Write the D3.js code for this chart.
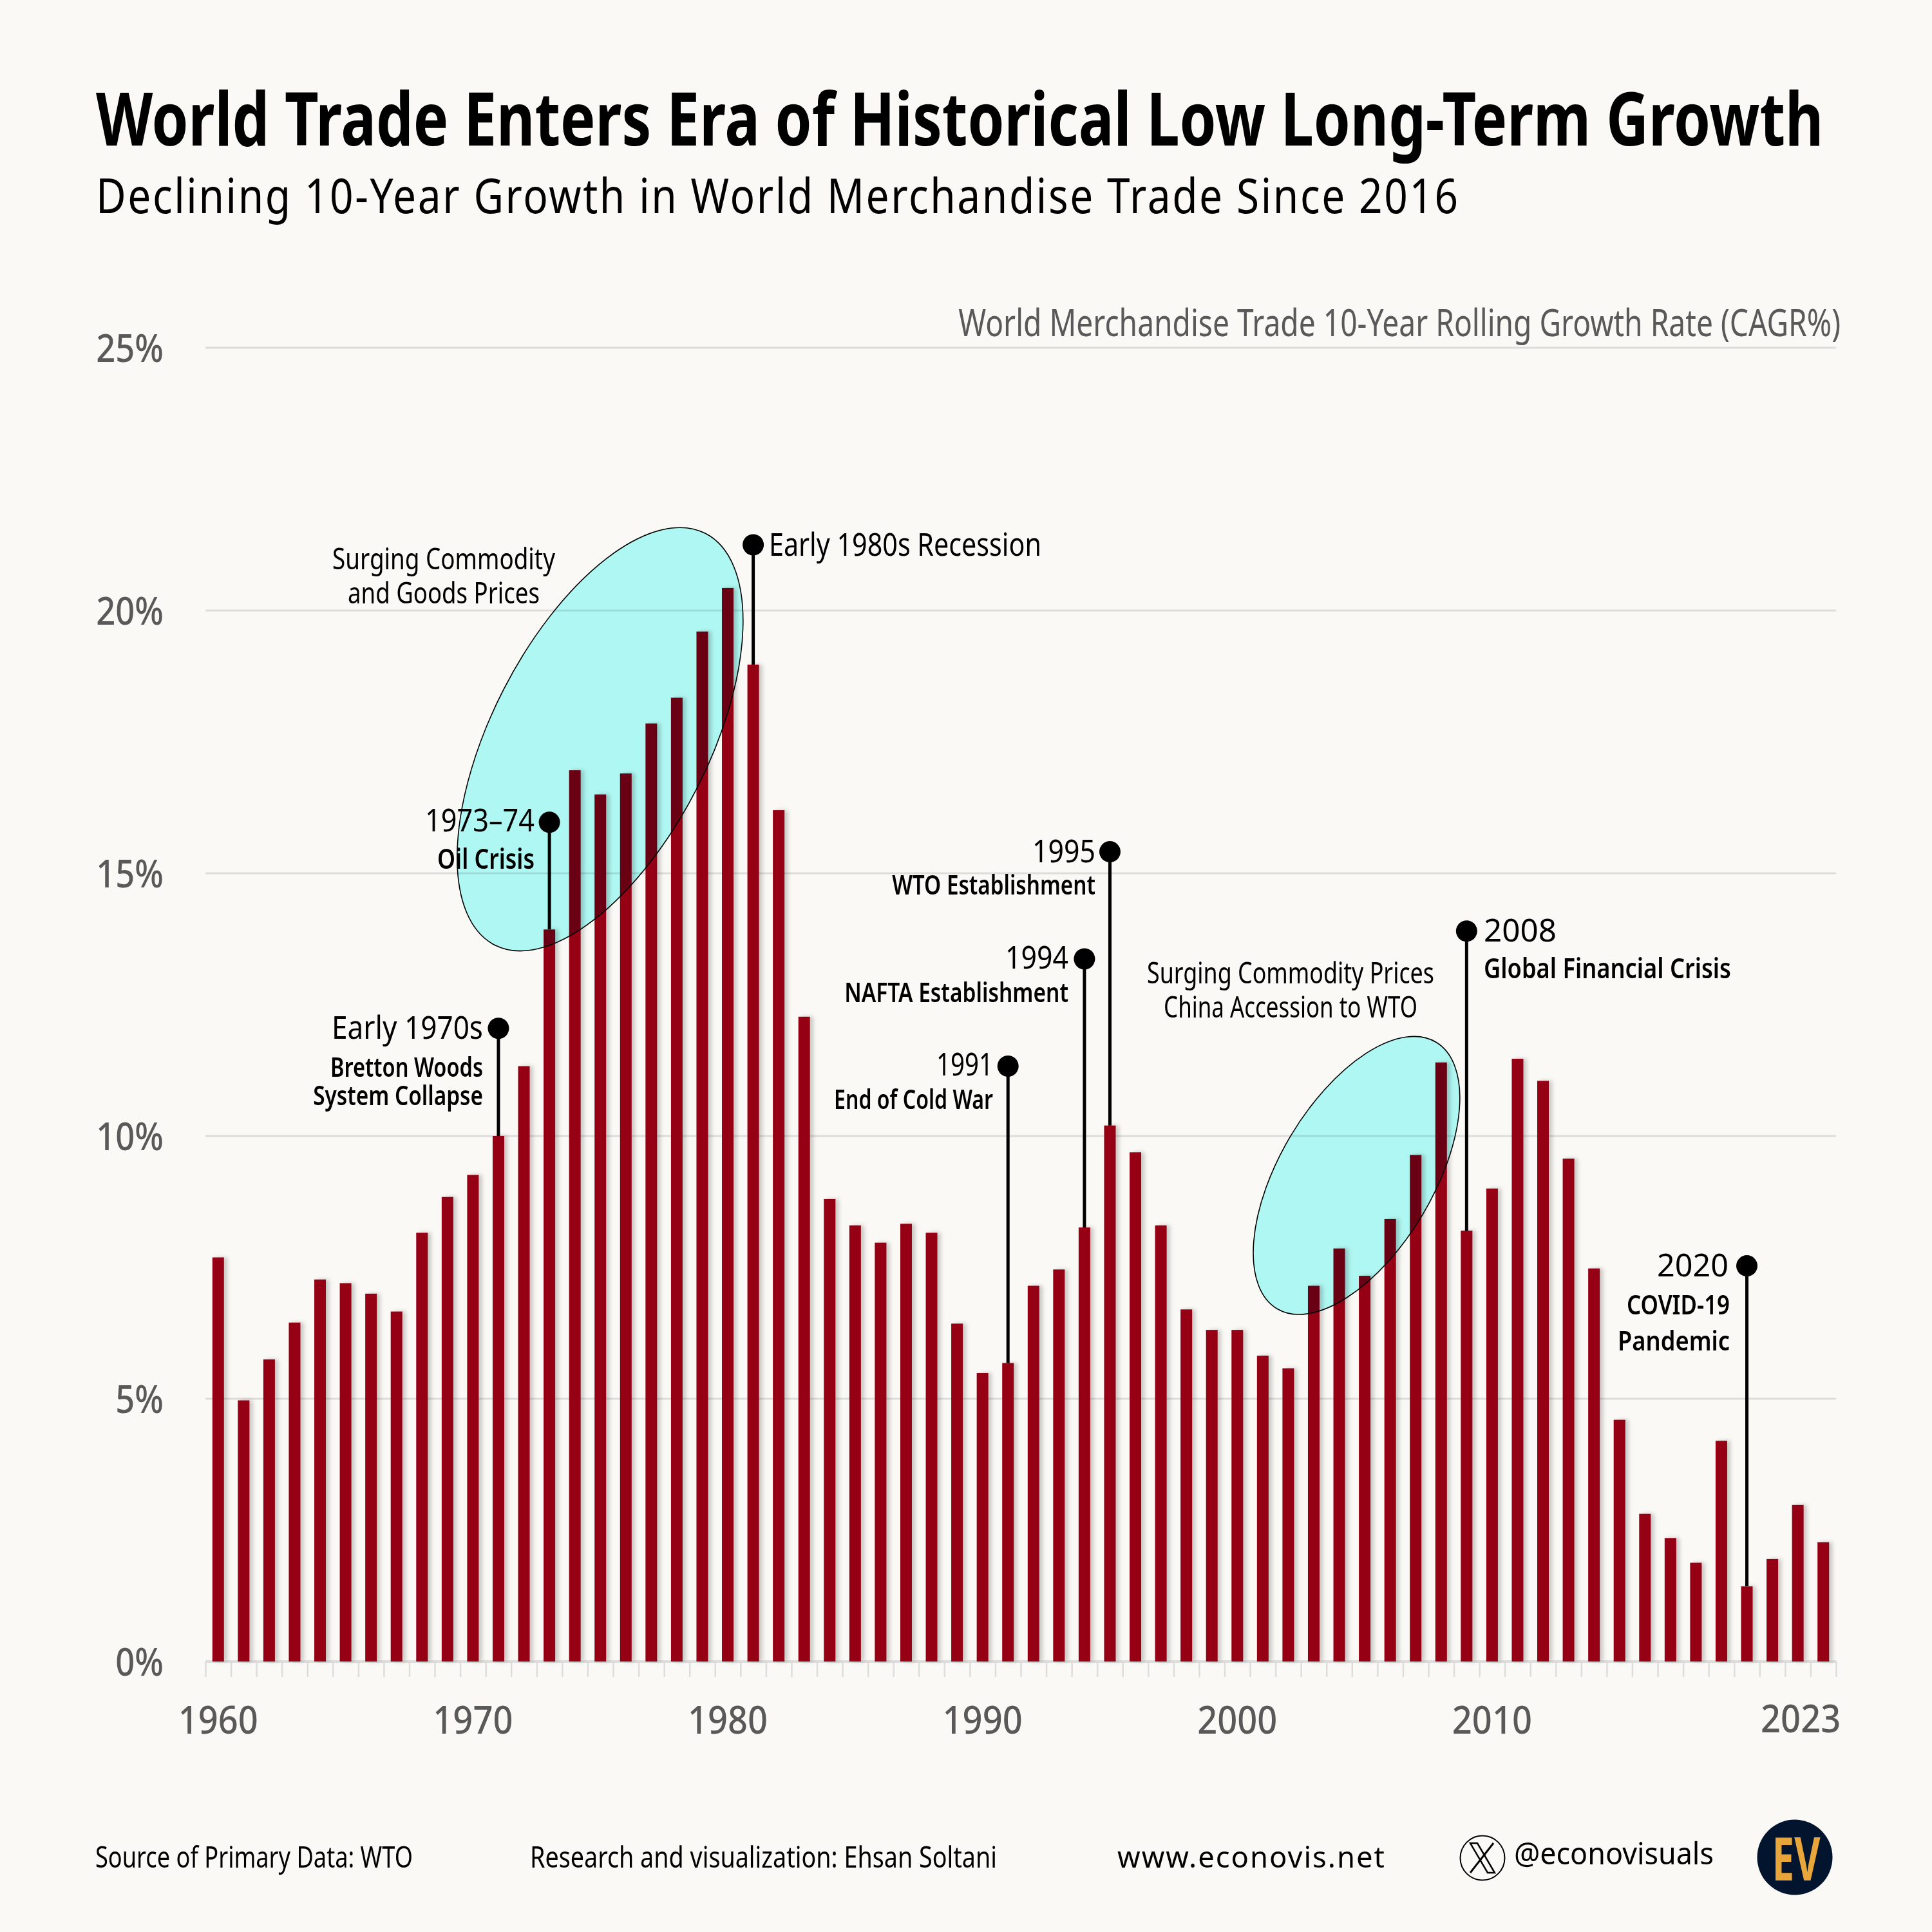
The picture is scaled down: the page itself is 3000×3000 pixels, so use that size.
<!DOCTYPE html>
<html><head><meta charset="utf-8">
<script src="https://cdnjs.cloudflare.com/ajax/libs/d3/7.8.5/d3.min.js"></script>
<style>html,body{margin:0;padding:0;background:#faf9f5}svg{display:block}text{font-family:"Noto Sans",sans-serif}</style>
</head><body><svg id="c" width="3000" height="3000"></svg>
<script>
const years = d3.range(1960, 2024);
const growth = [7.69,4.97,5.75,6.45,7.27,7.2,7.0,6.66,8.16,8.84,9.26,10.0,11.33,13.93,16.96,16.5,16.9,17.85,18.34,19.6,20.43,18.97,16.2,12.27,8.8,8.3,7.97,8.33,8.16,6.43,5.49,5.68,7.15,7.46,8.26,10.2,9.69,8.3,6.7,6.31,6.31,5.82,5.58,7.15,7.86,7.34,8.42,9.64,11.4,8.2,9.0,11.47,11.05,9.57,7.48,4.6,2.81,2.35,1.88,4.2,1.43,1.95,2.98,2.27];
const yTicks = [0,5,10,15,20,25];
const xLabels = [1960,1970,1980,1990,2000,2010,2023];
const stemYears = [1971,1973,1981,1991,1994,1995,2009,2020];
const stemTops = [12.05,15.97,21.25,11.33,13.37,15.41,13.9,7.53];
const bubbleYears = [1974.99,2004.68];
const bubbleValues = [17.55,9.25];

const svg = d3.select("#c");
const W=3000;
svg.append("rect").attr("width",W).attr("height",W).attr("fill","#faf9f5");
const x = d3.scaleBand().domain(years).range([319,2851]);
const xEdge = d3.scaleLinear().domain([1960,2024]).range([319,2851]);
const y = d3.scaleLinear().domain([0,25]).range([2580,540]);
const grey="#595959", gridC="#dedddb", red="#950014";

function squeeze(sel,k,dx){sel.each(function(d){this.setAttribute("transform",`translate(${dx?dx(d):0},0) scale(${k},1)`);});}
function label(t,px,py,size,width,o={}){
  const n=svg.append("text").text(t).attr("font-size",size)
   .attr("font-weight",o.weight||400).attr("fill",o.fill||"#000").attr("text-anchor",o.anchor||"start");
  if(o.spacing) n.style("letter-spacing",o.spacing+"px");
  const k=width/n.node().getComputedTextLength();
  n.attr("transform",`translate(${px},${py}) scale(${k},1)`);
}

// grid
svg.append("g").selectAll("line").data(yTicks.filter(d=>d>0)).join("line")
  .attr("x1",319).attr("x2",2851).attr("y1",y).attr("y2",y).attr("stroke",gridC).attr("stroke-width",3);

// y axis
const ya = svg.append("g").attr("transform","translate(254,0)").call(d3.axisLeft(y).tickValues(yTicks).tickSize(0).tickFormat(d=>d+"%"));
ya.select(".domain").remove();
ya.selectAll("text").attr("font-size",59).attr("font-weight",500).attr("fill",grey).attr("x",0).attr("dy","0.36em").style("font-family",'"Noto Sans"').call(squeeze,.89);

// x axis ticks + line
const xt = svg.append("g").attr("transform","translate(0,2580)").call(d3.axisBottom(xEdge).tickValues(d3.range(1960,2025)).tickSize(24).tickFormat(""));
xt.select(".domain").remove();
xt.selectAll("line").attr("stroke",gridC).attr("stroke-width",2.5);
svg.append("line").attr("x1",319).attr("x2",2851).attr("y1",2580).attr("y2",2580).attr("stroke",gridC).attr("stroke-width",4);
const xl = svg.append("g").attr("transform","translate(0,2580)").call(d3.axisBottom(x).tickValues(xLabels).tickSize(0));
xl.select(".domain").remove();
xl.selectAll("text").attr("font-size",59).attr("font-weight",500).attr("fill",grey).attr("y",112).attr("dy",0).style("font-family",'"Noto Sans"').call(squeeze,.92,d=>d===2023?27:0);
xl.selectAll(".tick").filter(d=>d===2023).select("text").attr("text-anchor","end").attr("y",110);

// bars
const barW=18;
svg.append("g").style("filter","drop-shadow(5px 0 3px rgba(0,0,0,.2))").selectAll("rect").data(years).join("rect")
  .attr("x",d=>x(d)+x.bandwidth()/2-barW/2).attr("width",barW)
  .attr("y",(d,i)=>y(growth[i])).attr("height",(d,i)=>y(0)-y(growth[i])).attr("fill",red);

// ellipses
const radii=[[168.6,359,27.1],[119.3,241,30.8]];
svg.append("g").selectAll("ellipse").data(bubbleYears).join("ellipse")
  .attr("rx",(d,i)=>radii[i][0]).attr("ry",(d,i)=>radii[i][1])
  .attr("transform",(d,i)=>`translate(${x(1960)+(d-1960+.5)*x.step()},${y(bubbleValues[i])}) rotate(${radii[i][2]})`)
  .attr("fill","#b3fdfc").attr("stroke","#000").attr("stroke-width",1.6).style("mix-blend-mode","multiply");

// stems
const cx=d=>x(d)+x.bandwidth()/2;
const gs=svg.append("g");
stemYears.forEach((yr,i)=>{
  gs.append("line").attr("x1",cx(yr)).attr("x2",cx(yr)).attr("y1",y(stemTops[i])).attr("y2",y(growth[years.indexOf(yr)])).attr("stroke","#000").attr("stroke-width",5);
  gs.append("circle").attr("cx",cx(yr)).attr("cy",y(stemTops[i])).attr("r",16.5).attr("fill","#000");
});

// title
label("World Trade Enters Era of Historical Low Long-Term Growth",149,226,115,2683,{weight:700});
label("Declining 10-Year Growth in World Merchandise Trade Since 2016",149,331,74,2118,{spacing:3});
label("World Merchandise Trade 10-Year Rolling Growth Rate (CAGR%)",2858,522,58,1370,{anchor:"end",fill:grey});

// notes
const mid={anchor:"middle"}, end={anchor:"end"}, bEnd={anchor:"end",weight:600};
label("Surging Commodity",689,884,45,346,mid);
label("and Goods Prices",689,937,45,298,mid);
label("Early 1980s Recession",1194,863,50,423);
label("1973–74",830,1291,50,170,end);
label("Oil Crisis",830,1349,44,151,bEnd);
label("Early 1970s",750,1613,50,235,end);
label("Bretton Woods",750,1672,42,237,bEnd);
label("System Collapse",750,1716,42,264,bEnd);
label("1995",1701,1339,50,98,end);
label("WTO Establishment",1701,1389,42,316,bEnd);
label("1994",1659,1504,50,98,end);
label("NAFTA Establishment",1659,1556,42,348,bEnd);
label("1991",1542,1670,50,88,end);
label("End of Cold War",1542,1722,42,247,bEnd);
label("Surging Commodity Prices",2004,1527,45,446,mid);
label("China Accession to WTO",2004,1580,45,394,mid);
label("2008",2304,1462,50,113);
label("Global Financial Crisis",2304,1519,44,384,{weight:600});
label("2020",2684,1982,50,111,end);
label("COVID-19",2686,2041,42,160,bEnd);
label("Pandemic",2686,2097,42,174,bEnd);

// footer
label("Source of Primary Data: WTO",148,2900,45,493);
label("Research and visualization: Ehsan Soltani",823,2900,45,725);
label("www.econovis.net",1735,2900,46,417,{spacing:2});
label("@econovisuals",2351,2895,48,310);
svg.append("circle").attr("cx",2302).attr("cy",2885).attr("r",34.5).attr("fill","none").attr("stroke","#000").attr("stroke-width",2);
const xg=svg.append("g").attr("transform","translate(2302,2885)").attr("fill","none").attr("stroke","#000");
xg.append("path").attr("d","M-19,-23 L-8,-23 L19,23 L8,23 Z").attr("stroke-width",2.5);
xg.append("path").attr("d","M17,-23 L-19,23").attr("stroke-width",3);
svg.append("circle").attr("cx",2787).attr("cy",2884).attr("r",58.5).attr("fill","#03152e");
label("EV",2789,2920,94,75,{anchor:"middle",weight:700,fill:"#e8a63a"});
</script></body></html>
